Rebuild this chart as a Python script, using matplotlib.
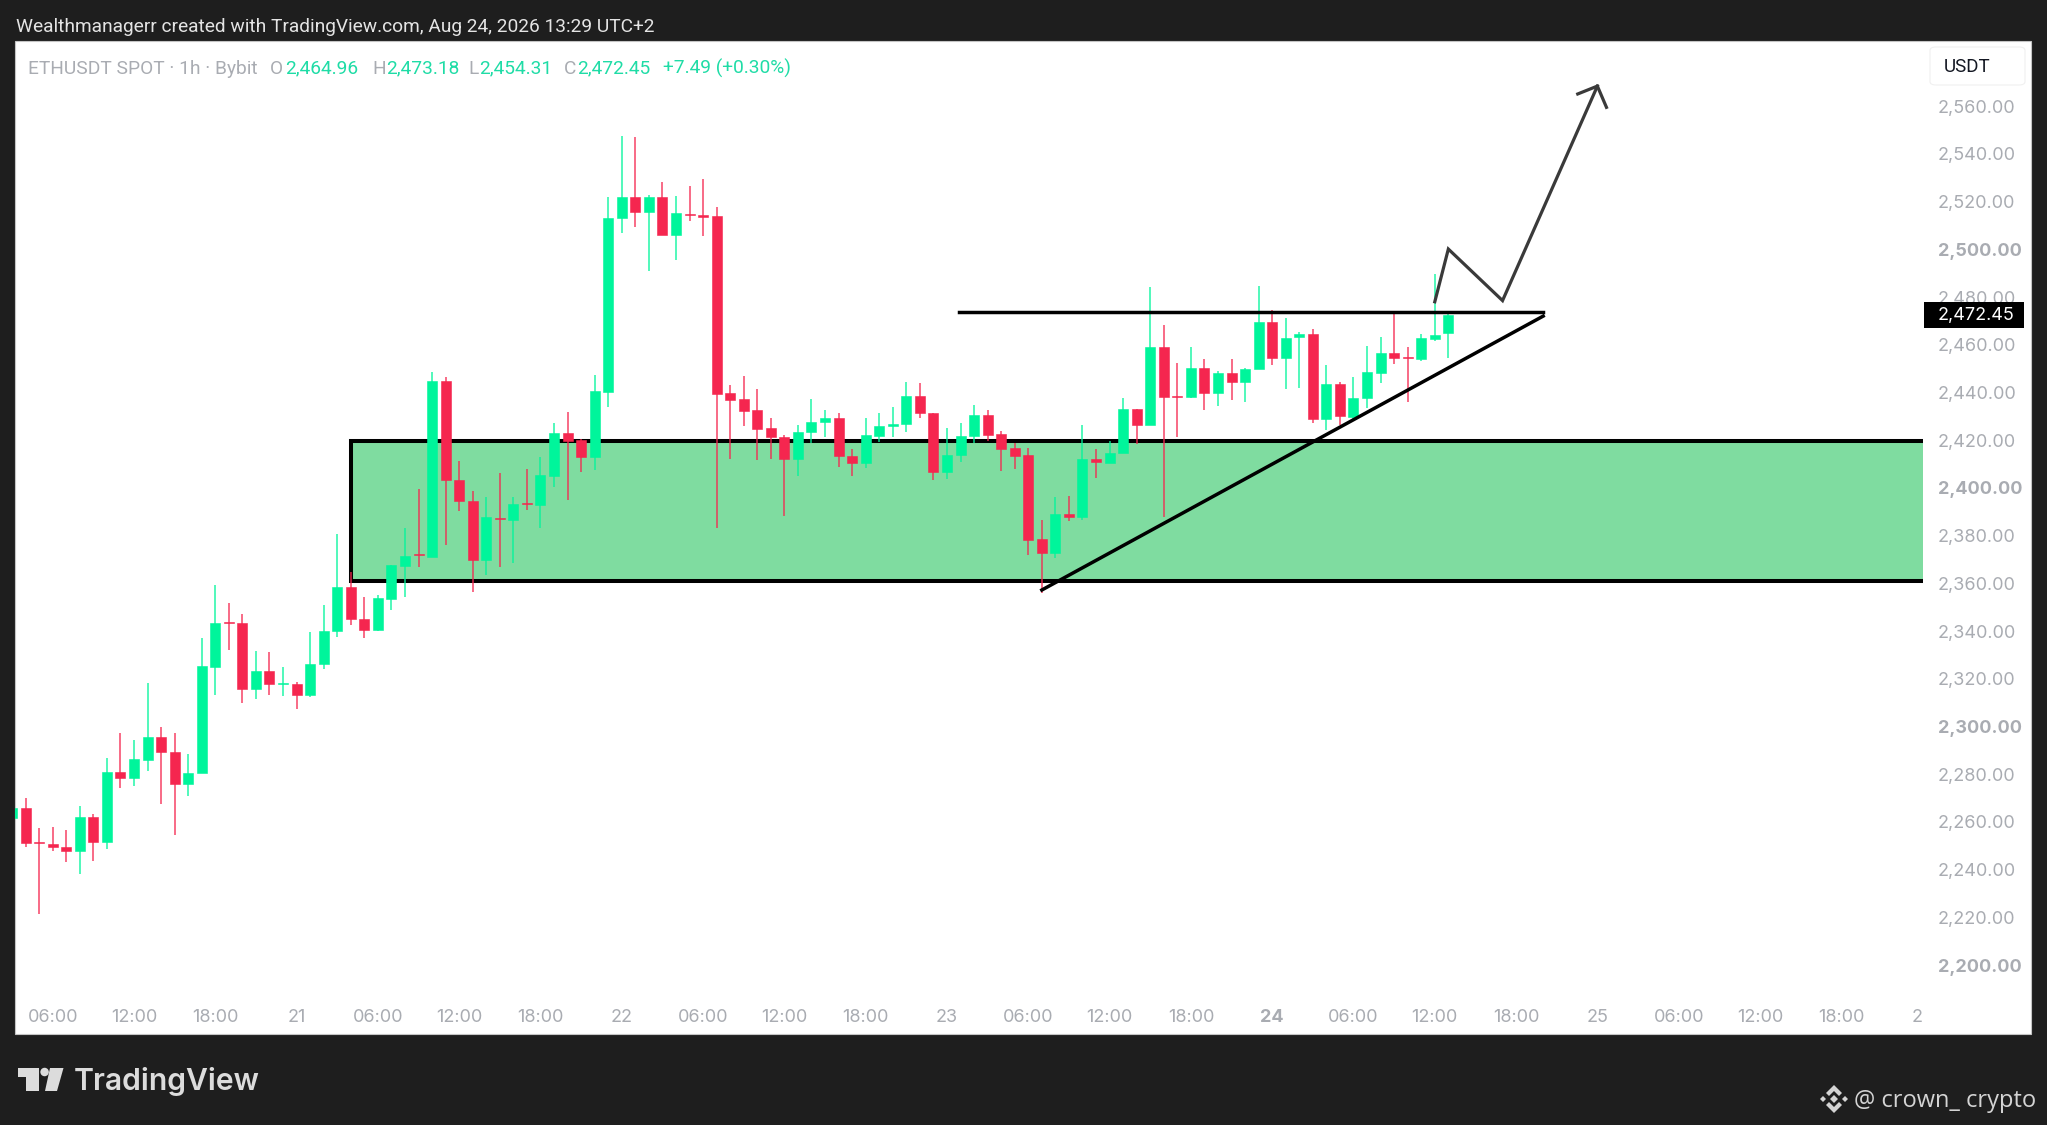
#!/usr/bin/env python3
"""
ETHUSDT 1h chart (TradingView snapshot) with demand zone, triangle and projected move
"""

import matplotlib
matplotlib.use('Agg')
import matplotlib.pyplot as plt
import matplotlib.patches as patches
import numpy as np

plt.rcParams['font.family'] = ['Inter', 'DejaVu Sans']

W, H = 2047, 1125

# Candles, one per hour, counted from Aug 20 00:00
FIRST_HOUR = 3
opens = [
    2261.5, 2266.0, 2251.7, 2250.6, 2249.4, 2247.8, 2261.9, 2251.6, 2281.1, 2278.3,
    2286.0, 2295.5, 2289.3, 2275.9, 2280.4, 2325.1, 2343.8, 2343.5, 2315.7, 2323.3,
    2318.0, 2318.0, 2313.3, 2326.2, 2340.0, 2358.6, 2344.9, 2340.4, 2353.6, 2367.4,
    2372.2, 2371.2, 2444.8, 2403.3, 2394.5, 2369.8, 2387.5, 2386.6, 2393.7, 2392.8,
    2405.0, 2422.9, 2420.1, 2412.8, 2440.3, 2513.0, 2521.8, 2515.6, 2521.8, 2506.0,
    2514.9, 2514.4, 2513.9, 2439.6, 2437.1, 2432.7, 2425.0, 2421.5, 2412.0, 2423.3,
    2427.5, 2429.4, 2413.5, 2410.3, 2421.8, 2426.1, 2426.7, 2438.7, 2431.4, 2406.8,
    2413.8, 2421.8, 2430.5, 2422.6, 2416.6, 2413.7, 2378.5, 2372.6, 2389.0, 2388.0,
    2412.1, 2410.6, 2414.5, 2432.9, 2426.5, 2459.2, 2438.5, 2438.0, 2450.1, 2439.9,
    2448.0, 2444.2, 2449.8, 2469.4, 2454.6, 2463.1, 2464.4, 2428.9, 2443.4, 2429.9,
    2437.8, 2448.3, 2456.4, 2454.9, 2454.0, 2462.5, 2464.96,
]
highs = [
    2268.0, 2270.2, 2257.3, 2257.7, 2256.6, 2266.7, 2263.3, 2286.7, 2297.4, 2294.3,
    2318.4, 2299.9, 2297.4, 2288.5, 2337.0, 2359.3, 2351.6, 2347.2, 2331.8, 2331.1,
    2325.1, 2318.6, 2339.6, 2350.9, 2380.5, 2364.9, 2354.1, 2355.1, 2367.7, 2383.1,
    2399.4, 2448.7, 2446.6, 2411.4, 2398.8, 2396.3, 2406.1, 2396.3, 2407.9, 2412.8,
    2427.1, 2431.7, 2420.4, 2447.3, 2521.8, 2547.5, 2546.9, 2522.6, 2528.2, 2522.3,
    2526.7, 2529.6, 2517.9, 2443.1, 2446.9, 2441.3, 2429.2, 2422.2, 2426.4, 2437.1,
    2432.7, 2431.2, 2416.2, 2429.2, 2431.2, 2434.1, 2444.3, 2443.8, 2431.5, 2425.0,
    2427.1, 2434.8, 2432.7, 2424.0, 2419.0, 2416.6, 2386.5, 2396.3, 2396.6, 2426.4,
    2416.2, 2419.8, 2437.8, 2433.1, 2484.3, 2468.3, 2452.2, 2458.9, 2453.9, 2449.0,
    2453.9, 2450.1, 2484.6, 2474.6, 2471.4, 2465.5, 2466.5, 2451.5, 2444.5, 2446.6,
    2459.6, 2463.4, 2473.9, 2458.9, 2464.5, 2489.7, 2473.18,
]
lows = [
    2259.0, 2249.6, 2221.4, 2248.0, 2243.0, 2238.2, 2243.8, 2248.8, 2274.4, 2275.1,
    2281.4, 2267.4, 2254.5, 2270.9, 2280.4, 2313.2, 2332.1, 2309.7, 2311.4, 2313.2,
    2312.8, 2307.2, 2312.2, 2324.1, 2337.4, 2342.5, 2337.1, 2340.2, 2348.8, 2354.4,
    2367.0, 2370.9, 2375.9, 2390.3, 2356.5, 2363.5, 2367.0, 2368.7, 2390.7, 2383.1,
    2400.5, 2394.9, 2406.8, 2407.5, 2434.0, 2507.0, 2509.2, 2490.9, 2506.0, 2495.5,
    2511.9, 2505.6, 2383.1, 2412.0, 2426.1, 2411.7, 2412.1, 2388.2, 2405.0, 2418.7,
    2421.5, 2408.9, 2405.0, 2408.2, 2419.4, 2421.5, 2423.6, 2429.2, 2403.3, 2403.6,
    2411.0, 2418.7, 2419.7, 2407.1, 2407.9, 2371.9, 2356.1, 2370.5, 2386.3, 2386.5,
    2404.3, 2410.3, 2414.5, 2418.3, 2426.2, 2387.9, 2421.5, 2437.7, 2432.7, 2434.5,
    2436.8, 2435.9, 2449.7, 2451.5, 2441.3, 2441.7, 2427.1, 2424.3, 2426.4, 2428.0,
    2433.4, 2443.8, 2451.8, 2436.0, 2453.3, 2461.7, 2454.31,
]
closes = [
    2265.7, 2251.3, 2251.3, 2249.4, 2247.8, 2261.9, 2251.7, 2281.1, 2278.3, 2286.2,
    2295.5, 2289.3, 2275.9, 2280.4, 2325.4, 2343.5, 2343.4, 2315.7, 2323.3, 2318.0,
    2318.2, 2313.3, 2326.2, 2340.0, 2358.6, 2344.9, 2340.4, 2353.7, 2367.7, 2371.6,
    2371.8, 2444.8, 2403.3, 2394.5, 2369.8, 2387.7, 2386.8, 2393.3, 2393.3, 2405.4,
    2422.9, 2419.8, 2412.8, 2440.6, 2513.3, 2521.8, 2515.6, 2521.8, 2506.0, 2515.1,
    2514.4, 2513.7, 2439.4, 2436.9, 2432.4, 2424.7, 2421.2, 2412.0, 2423.3, 2427.5,
    2429.3, 2413.4, 2410.3, 2422.2, 2425.9, 2426.8, 2438.7, 2431.3, 2406.8, 2413.8,
    2421.8, 2430.5, 2422.2, 2416.3, 2413.4, 2378.2, 2372.6, 2389.1, 2388.0, 2412.0,
    2410.7, 2414.8, 2433.1, 2426.5, 2459.2, 2438.0, 2438.0, 2450.1, 2439.9, 2448.0,
    2444.4, 2449.7, 2469.4, 2454.6, 2463.0, 2464.4, 2428.7, 2443.4, 2430.3, 2437.5,
    2448.4, 2456.4, 2454.3, 2454.4, 2462.7, 2464.2, 2472.45,
]

# Axis ticks
price_ticks = list(range(2200, 2561, 20))
bold_prices = [2200, 2300, 2400, 2500]
time_ticks = [6, 12, 18, 24, 30, 36, 42, 48, 54, 60, 66, 72, 78, 84, 90, 96,
              102, 108, 114, 120, 126, 132, 138, 144]
time_labels = ['06:00', '12:00', '18:00', '21', '06:00', '12:00', '18:00', '22',
               '06:00', '12:00', '18:00', '23', '06:00', '12:00', '18:00', '24',
               '06:00', '12:00', '18:00', '25', '06:00', '12:00', '18:00', '2']

# Drawings on the chart
zone_start = 28
zone_low, zone_high = 2360.9, 2419.8
resistance_x, resistance_y = [72.9, 116.0], [2473.9, 2473.9]
trend_x, trend_y = [79.0, 116.0], [2357.2, 2472.0]
path_x, path_y = [108, 109, 113, 120], [2478.0, 2500.1, 2478.5, 2568.4]
head_x, head_y = [118.55, 120, 120.67], [2565.1, 2568.4, 2559.5]
last_price = 2472.45

GREEN = '#00f59b'
RED = '#f5264f'
GREY = '#a9acb2'
DARK = '#1e1e1e'
TEXT_FONT = ['Roboto', 'DejaVu Sans']


def fx(x):
    return x / W


def fy(y):
    return 1 - y / H


def fig_poly(fig, points, color):
    """Filled polygon given in image pixels"""
    pts = [(fx(x), fy(y)) for x, y in points]
    fig.add_artist(patches.Polygon(pts, closed=True, facecolor=color, edgecolor='none',
                                   transform=fig.transFigure))


fig = plt.figure(figsize=(W / 100, H / 100), dpi=100, facecolor=DARK)

# White chart card
card = patches.Rectangle((fx(15), fy(1034)), fx(2031 - 15), (1034 - 41) / H,
                         facecolor='white', edgecolor='#c4c4c4', linewidth=0.8,
                         transform=fig.transFigure, zorder=-1)
fig.patches.append(card)
card.set_figure(fig)

ax = fig.add_axes([fx(15), fy(998), fx(1923 - 15), (998 - 41) / H])
ax.patch.set_alpha(0)
for spine in ax.spines.values():
    spine.set_visible(False)
ax.set_xlim(3.22, 144.03)
ax.set_ylim(2186.2, 2587.3)

# Demand zone
ax.add_patch(patches.Rectangle((zone_start, zone_low), 150 - zone_start, zone_high - zone_low,
                               facecolor='#7fdca0', edgecolor='black', linewidth=2.9, zorder=1))

# Candles
hours = np.arange(FIRST_HOUR, FIRST_HOUR + len(opens))
o = np.array(opens)
c = np.array(closes)
colors = [GREEN if b >= a else RED for a, b in zip(o, c)]
ax.vlines(hours, lows, highs, colors=colors, linewidth=1.2, alpha=0.8, zorder=2)
ax.bar(hours, np.abs(c - o), bottom=np.minimum(o, c), width=0.74, color=colors,
       edgecolor=colors, linewidth=0.4, zorder=3)

# Triangle lines and projected path
ax.plot(resistance_x, resistance_y, color='black', linewidth=2.5, zorder=4)
ax.plot(trend_x, trend_y, color='black', linewidth=2.5, zorder=4)
ax.plot(path_x, path_y, color='#3a3a3a', linewidth=2.3, solid_joinstyle='miter', zorder=5)
ax.plot(head_x, head_y, color='#3a3a3a', linewidth=2.3, solid_joinstyle='miter', zorder=5)

# Price axis
ax.yaxis.tick_right()
ax.set_yticks(price_ticks)
ax.set_yticklabels([f'{p:,.2f}' for p in price_ticks])
ax.tick_params(axis='y', length=0, pad=10.8, labelsize=13, labelcolor=GREY)
for tick, p in zip(ax.get_yticklabels(), price_ticks):
    tick.set_ha('left')
    if p in bold_prices:
        tick.set_fontweight('bold')

# Time axis
ax.set_xticks(time_ticks)
ax.set_xticklabels(time_labels)
ax.tick_params(axis='x', length=0, pad=7.6, labelsize=13, labelcolor=GREY)
for tick, label in zip(ax.get_xticklabels(), time_labels):
    if label == '24':
        tick.set_fontweight('bold')
    if label == '2':
        tick.set_ha('right')

# Last price tag
tag_y = ax.transData.transform((0, last_price))[1] / H
fig.add_artist(patches.Rectangle((fx(1924), tag_y - 13 / H), fx(100), 26 / H,
                                 facecolor='black', edgecolor='none',
                                 transform=fig.transFigure, zorder=6))
fig.text(fx(1938), tag_y, f'{last_price:,.2f}', color='white', fontsize=13,
         ha='left', va='center', zorder=7)

# USDT button
fig.add_artist(patches.FancyBboxPatch((fx(1930), fy(85)), fx(95), 38 / H,
                                      boxstyle='round,pad=0,rounding_size=0.003',
                                      facecolor='white', edgecolor='#f0f0f0', linewidth=0.8,
                                      transform=fig.transFigure))
fig.text(fx(1943.5), fy(67.5), 'USDT', color='#131722', fontsize=13.5, family=TEXT_FONT,
         ha='left', va='center')

# Header
fig.text(fx(15.5), fy(27.5), 'Wealthmanagerr created with TradingView.com, Aug 24, 2026 13:29 UTC+2',
         color='#e4e4e4', fontsize=13.8, family=TEXT_FONT, ha='left', va='center')

# Legend row
legend_bits = [
    (27.5, 'ETHUSDT SPOT · 1h · Bybit', GREY),
    (270, 'O', GREY), (285, '2,464.96', '#1fdca6'),
    (372, 'H', GREY), (386, '2,473.18', '#1fdca6'),
    (468, 'L', GREY), (479, '2,454.31', '#1fdca6'),
    (564, 'C', GREY), (577, '2,472.45', '#1fdca6'),
    (663, '+7.49 (+0.30%)', '#1fdca6'),
]
for x, s, col in legend_bits:
    fig.text(fx(x), fy(68.5), s, color=col, fontsize=13.8, family=TEXT_FONT, ha='left', va='center')

# TradingView logo
LOGO = '#dcdcdc'
fig_poly(fig, [(18, 1068), (39, 1068), (39, 1091), (26, 1091), (26, 1077), (18, 1077)], LOGO)
fig_poly(fig, [(50, 1068), (63.5, 1068), (57, 1091), (45, 1091)], LOGO)
fig.add_artist(patches.Ellipse((fx(44.6), fy(1072)), fx(8.5), 8.5 / H, facecolor=LOGO,
                               edgecolor='none', transform=fig.transFigure))
fig.text(fx(74), fy(1082), 'TradingView', color=LOGO, fontsize=21.7, fontweight='semibold',
         ha='left', va='center')

# Watermark mark and handle
MARK = '#d4d4d4'
cx, cy = 1834, 1099
fig_poly(fig, [(cx - 4, cy), (cx, cy - 4), (cx + 4, cy), (cx, cy + 4)], MARK)
fig_poly(fig, [(cx - 14, cy), (cx - 11, cy - 3), (cx - 8, cy), (cx - 11, cy + 3)], MARK)
fig_poly(fig, [(cx + 14, cy), (cx + 11, cy - 3), (cx + 8, cy), (cx + 11, cy + 3)], MARK)
fig_poly(fig, [(cx, cy - 14), (cx + 8, cy - 6), (cx + 5, cy - 3), (cx, cy - 8), (cx - 5, cy - 3), (cx - 8, cy - 6)], MARK)
fig_poly(fig, [(cx, cy + 14), (cx + 8, cy + 6), (cx + 5, cy + 3), (cx, cy + 8), (cx - 5, cy + 3), (cx - 8, cy + 6)], MARK)
fig.text(fx(1854), fy(1101), '@ crown_ crypto', color=MARK, fontsize=17, family=['Open Sans', 'DejaVu Sans'],
         ha='left', va='center')

plt.savefig('out.png', dpi=100, facecolor=DARK)
